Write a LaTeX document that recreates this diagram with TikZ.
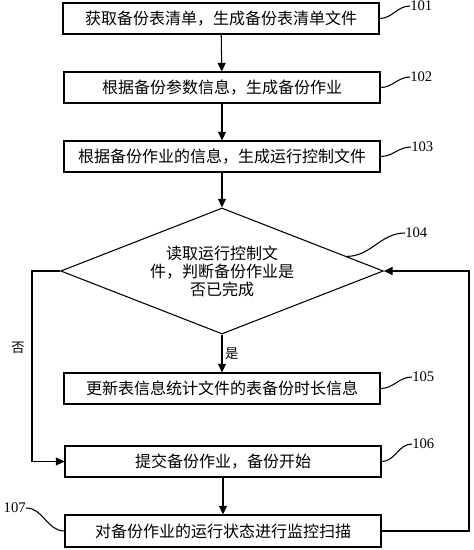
\documentclass[tikz,border=0pt]{standalone}
\usepackage{fontspec}
\setmainfont{Liberation Serif}
\newfontfamily\cjk{Noto Sans CJK SC}
\usepackage{tikz}
\usetikzlibrary{arrows.meta,shapes.geometric,calc,positioning}
\newcommand{\cjktext}[0]{\cjk\fontsize{12}{13.5}\selectfont}

\begin{document}
\begin{tikzpicture}[x=0.75pt,y=-0.75pt,
        stepbox/.style={draw, line width=0.8pt, minimum width=237pt, minimum height=23.25pt, inner sep=0pt, font=\cjktext},
        decide/.style={draw, diamond, aspect=2.56, line width=0.8pt, minimum width=242pt, minimum height=94.5pt, inner sep=0pt, align=center, font=\cjktext},
        flow/.style={line width=0.8pt, -{Triangle[length=6.5pt,width=6pt]}},
        lead/.style={line width=0.8pt},
        num/.style={font=\fontsize{11}{12}\selectfont, inner sep=0pt},
    ]
        \useasboundingbox (0,0) rectangle (474,550);
        % Add steps
        \node (b101) at (221,18.5) [stepbox] {获取备份表清单，生成备份表清单文件};
        \node (b102) at (222,87.5) [stepbox] {根据备份参数信息，生成备份作业};
        \node (b103) at (222,156.5) [stepbox] {根据备份作业的信息，生成运行控制文件};
        \node (dec) at (222,271) [decide] {读取运行控制文\\件，判断备份作业是\\否已完成};
        \node (b105) at (222,388.5) [stepbox] {更新表信息统计文件的表备份时长信息};
        \node (b106) at (223,461.5) [stepbox] {提交备份作业，备份开始};
        \node (b107) at (223,531) [stepbox, minimum height=24pt] {对备份作业的运行状态进行监控扫描};
        % Add arrows
        \draw[flow] (b101) -- (b102);
        \draw[flow] (b102) -- (b103);
        \draw[flow] (b103) -- (dec);
        \draw[flow] (dec.south) -- (b105.north) node[midway, right=2pt, font=\cjk\fontsize{10}{11}\selectfont, inner sep=0pt] {是};
        \draw[flow] (b106) -- (b107);
        \coordinate (lft) at (32,271);
        \coordinate (rgt) at (469,271);
        \draw[flow] (dec.west) -- (lft) |- (b106.west);
        \draw[flow] (b107.east) -| (rgt) -- (dec.east);
        \node (no) at (18,348) [font=\cjk\fontsize{10}{11}\selectfont, inner sep=0pt] {否};
        % Add labels
        \node (n101) at (410,6) [num, anchor=west] {101};
        \node (n102) at (410,77) [num, anchor=west] {102};
        \node (n103) at (411,147) [num, anchor=west] {103};
        \node (n104) at (405,233) [num, anchor=west] {104};
        \node (n105) at (412,377) [num, anchor=west] {105};
        \node (n106) at (412,444) [num, anchor=west] {106};
        \node (n107) at (26,508) [num, anchor=east] {107};
        \draw[lead] (b101.east) to[out=0, in=180] (n101.west);
        \draw[lead] (b102.east) to[out=0, in=180] (n102.west);
        \draw[lead] (b103.east) to[out=0, in=180] (n103.west);
        \draw[lead] ($(dec.north)!0.77!(dec.east)$) to[out=0, in=180] (n104.west);
        \draw[lead] (b105.east) to[out=0, in=180] (n105.west);
        \draw[lead] (b106.east) to[out=0, in=180] (n106.west);
        \draw[lead] (b107.west) to[out=180, in=0] (n107.east);
    \end{tikzpicture}
\end{document}
